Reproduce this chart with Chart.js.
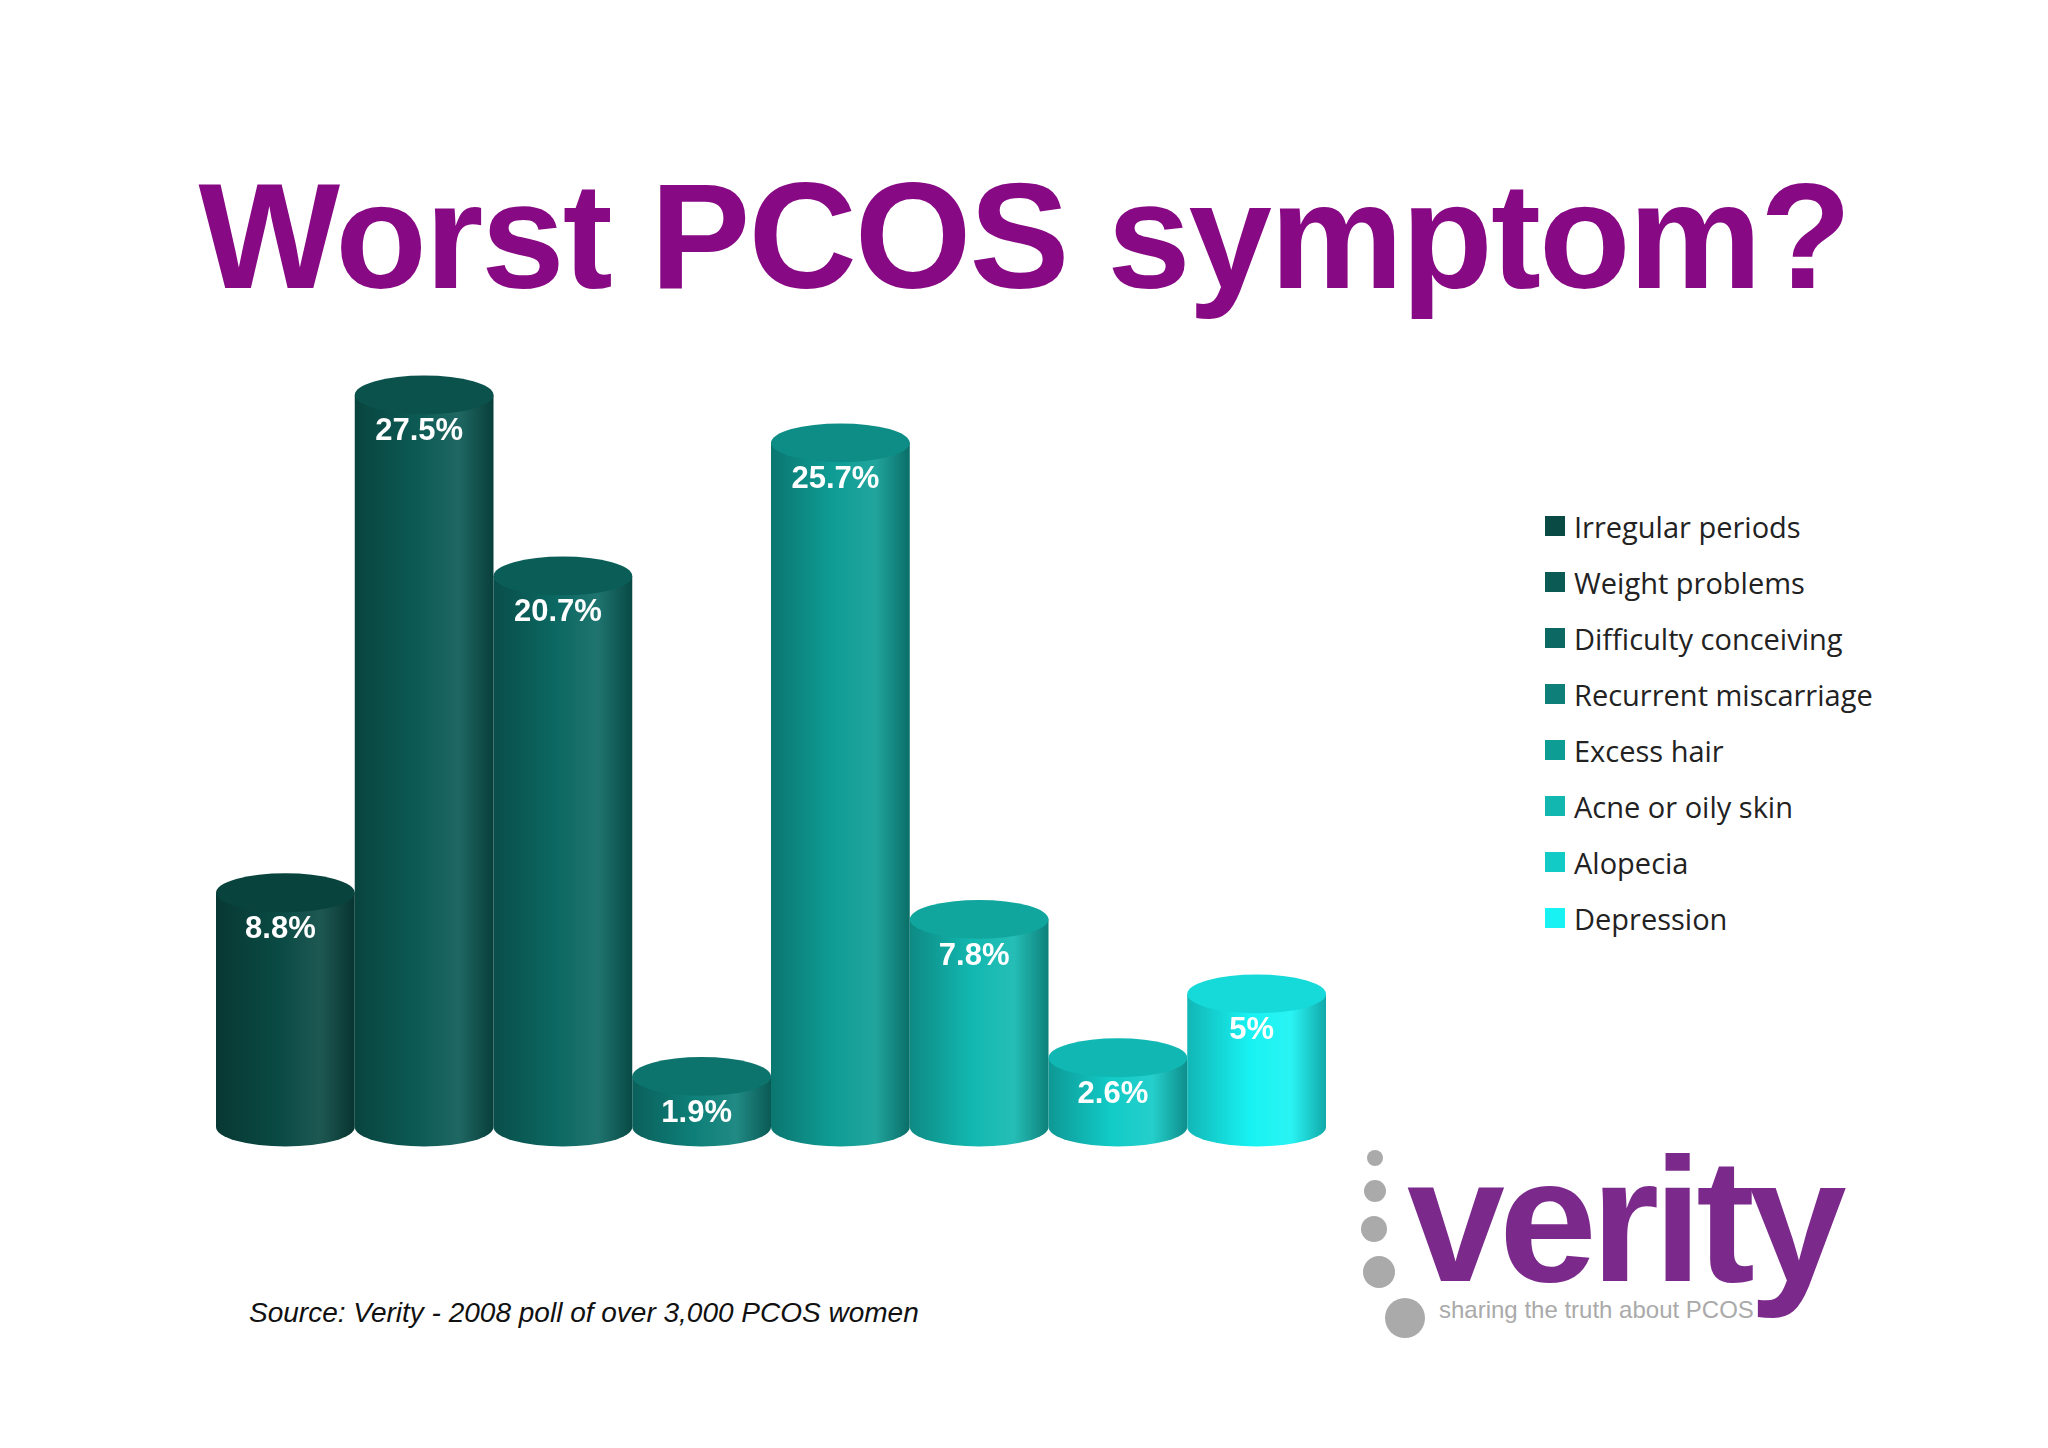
<!DOCTYPE html>
<html><head><meta charset="utf-8">
<script src="https://cdn.jsdelivr.net/npm/chart.js@4"></script>
<style>
body{margin:0;width:2048px;height:1448px;background:#fff;position:relative;overflow:hidden;font-family:"Liberation Sans",Arial,sans-serif}
#title{position:absolute;left:0;width:2048px;top:150px;text-align:center;font-weight:bold;font-size:150px;color:#870a84;letter-spacing:-2px}
#wrap{position:absolute;left:206px;top:327px;width:1130px;height:838px}
#legend{position:absolute;left:1545px;top:498px;font-family:"Open Sans",sans-serif;font-size:29px;color:#222}
#legend div{height:56px;display:flex;align-items:center}
#legend span{display:inline-block;width:20px;height:20px;margin-right:9px}
#source{position:absolute;left:249px;top:1297px;font-style:italic;font-size:28px;color:#111}
#logo{position:absolute;left:1355px;top:1140px;width:520px;height:210px}
</style></head><body>
<div id="title">Worst PCOS symptom?</div>
<div id="wrap"><canvas id="c"></canvas></div>
<div id="legend"></div>
<div id="source">Source: Verity - 2008 poll of over 3,000 PCOS women</div>
<div id="logo">
 <div style="position:absolute;left:12px;top:10px;width:16px;height:16px;border-radius:50%;background:#aaa"></div>
 <div style="position:absolute;left:9px;top:40px;width:22px;height:22px;border-radius:50%;background:#aaa"></div>
 <div style="position:absolute;left:6px;top:76px;width:26px;height:26px;border-radius:50%;background:#aaa"></div>
 <div style="position:absolute;left:8px;top:116px;width:32px;height:32px;border-radius:50%;background:#aaa"></div>
 <div style="position:absolute;left:30px;top:158px;width:40px;height:40px;border-radius:50%;background:#aaa"></div>
 <div style="position:absolute;left:52px;top:-8px;font-family:'Liberation Sans',Arial;font-weight:bold;font-size:176px;color:#7b2a8c;letter-spacing:-6px;line-height:1">verity</div>
 <div style="position:absolute;left:84px;top:156px;font-family:'Liberation Sans',Arial;font-size:24px;color:#aaa">sharing the truth about PCOS</div>
</div>
<script>
const categories=["Irregular periods","Weight problems","Difficulty conceiving","Recurrent miscarriage","Excess hair","Acne or oily skin","Alopecia","Depression"];
const values=[8.8,27.5,20.7,1.9,25.7,7.8,2.6,5];
const valueLabels=["8.8%","27.5%","20.7%","1.9%","25.7%","7.8%","2.6%","5%"];
const colors=["#0a4a44","#0c5a54","#0c6862","#0e8079","#0e9d95","#12b8b0","#12cbc7","#18f2f2"];
const lg=document.getElementById('legend');
categories.forEach((c,i)=>{lg.innerHTML+=`<div><span style="background:${colors[i]}"></span>${c}</div>`});
function shade(hex,f){const n=parseInt(hex.slice(1),16);let r=n>>16,g=(n>>8)&255,b=n&255;
 const m=v=>Math.max(0,Math.min(255,Math.round(f<0?v*(1+f):v+(255-v)*f)));return `rgb(${m(r)},${m(g)},${m(b)})`;}
const cyl={id:'cyl',
 afterDatasetsDraw(ch){const ctx=ch.ctx;const meta=ch.getDatasetMeta(0);
  meta.data.forEach((bar,i)=>{const w=bar.width,x0=bar.x-w/2,x1=bar.x+w/2,top=bar.y,bot=bar.base,ry=w*0.14;
   const g=ctx.createLinearGradient(x0,0,x1,0);
   g.addColorStop(0,shade(colors[i],-0.25));g.addColorStop(0.45,colors[i]);g.addColorStop(0.75,shade(colors[i],0.08));g.addColorStop(1,shade(colors[i],-0.3));
   ctx.save();ctx.fillStyle=g;ctx.beginPath();ctx.moveTo(x0,top);ctx.lineTo(x0,bot);
   ctx.ellipse(bar.x,bot,w/2,ry,0,Math.PI,0,true);ctx.lineTo(x1,top);ctx.closePath();ctx.fill();
   ctx.fillStyle=shade(colors[i],-0.1);ctx.beginPath();ctx.ellipse(bar.x,top,w/2,ry,0,0,Math.PI*2);ctx.fill();
   ctx.fillStyle='#fff';ctx.font='bold 31px "Liberation Sans",Arial';ctx.textAlign='center';ctx.textBaseline='top';
   ctx.fillText(valueLabels[i],bar.x-5,top+ry+2);ctx.restore();});
 }};
new Chart(document.getElementById('c'),{type:'bar',
 data:{labels:categories,datasets:[{data:values,backgroundColor:'rgba(0,0,0,0)',barPercentage:1,categoryPercentage:1}]},
 options:{responsive:true,maintainAspectRatio:false,animation:false,layout:{padding:{top:20,bottom:38,left:10,right:10}},
  plugins:{legend:{display:false},tooltip:{enabled:false}},
  scales:{x:{display:false},y:{display:false,min:0,max:29.3}}},
 plugins:[cyl]});
</script></body></html>
